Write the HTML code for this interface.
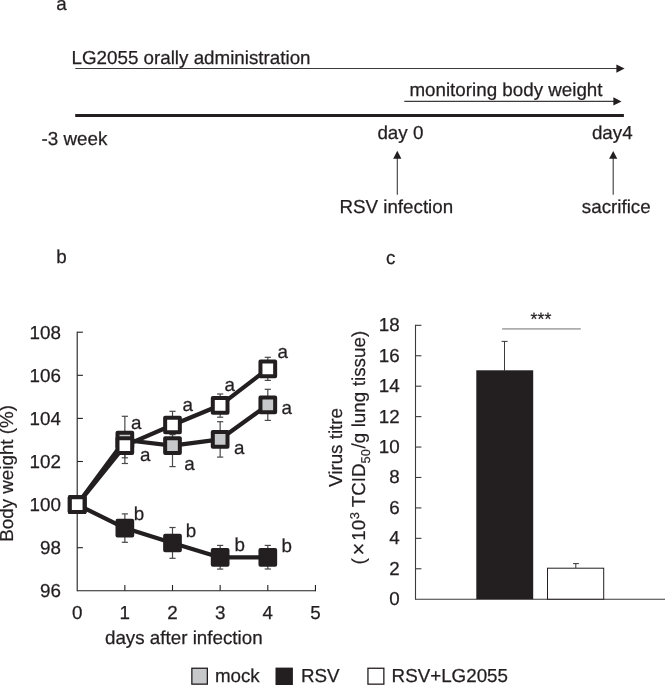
<!DOCTYPE html>
<html lang="en"><head><meta charset="utf-8"><title>Figure</title>
<style>
html,body{margin:0;padding:0;background:#fff;}
svg{display:block;font-family:"Liberation Sans",sans-serif;fill:#231f20;}
text{stroke:#231f20;stroke-width:0.25px;text-rendering:geometricPrecision;}
text.r{stroke-width:0.2px;}
</style></head><body>
<svg width="665" height="685" viewBox="0 0 665 685">
<rect width="665" height="685" fill="#fff"/>
<text x="56.30" y="10.00" text-anchor="start" font-size="18.8">a</text>
<text x="71.50" y="63.60" text-anchor="start" font-size="18.8">LG2055 orally administration</text>
<line x1="75.30" y1="68.55" x2="617.50" y2="68.55" stroke="#3c3a3b" stroke-width="1.1"/>
<polygon points="624.60,68.55 616.40,64.40 616.40,72.70" fill="#231f20"/>
<text x="409.40" y="95.50" text-anchor="start" font-size="18.8">monitoring body weight</text>
<line x1="404.30" y1="101.40" x2="614.00" y2="101.40" stroke="#3c3a3b" stroke-width="1.1"/>
<polygon points="621.50,101.45 613.40,97.30 613.40,105.60" fill="#231f20"/>
<line x1="75.20" y1="115.40" x2="623.90" y2="115.40" stroke="#231f20" stroke-width="3.0"/>
<text x="41.60" y="144.70" text-anchor="start" font-size="18.8">-3 week</text>
<text x="377.40" y="138.50" text-anchor="start" font-size="18.8">day 0</text>
<text x="591.90" y="138.50" text-anchor="start" font-size="18.8">day4</text>
<line x1="397.30" y1="158.00" x2="397.30" y2="194.80" stroke="#3c3a3b" stroke-width="1.1"/>
<polygon points="397.30,150.80 393.20,158.80 401.40,158.80" fill="#231f20"/>
<line x1="613.20" y1="158.00" x2="613.20" y2="194.80" stroke="#3c3a3b" stroke-width="1.1"/>
<polygon points="613.20,150.90 609.10,158.80 617.30,158.80" fill="#231f20"/>
<text x="339.40" y="212.80" text-anchor="start" font-size="18.8">RSV infection</text>
<text x="581.80" y="213.00" text-anchor="start" font-size="18.8">sacrifice</text>
<text x="56.20" y="262.60" text-anchor="start" font-size="18.8">b</text>
<line x1="77.20" y1="331.65" x2="77.20" y2="591.35" stroke="#231f20" stroke-width="1.1"/>
<line x1="77.20" y1="590.80" x2="315.45" y2="590.80" stroke="#231f20" stroke-width="1.1"/>
<text x="60.90" y="597.30" text-anchor="end" font-size="18.8">96</text>
<line x1="77.20" y1="547.70" x2="82.90" y2="547.70" stroke="#231f20" stroke-width="1.1"/>
<text x="60.90" y="554.20" text-anchor="end" font-size="18.8">98</text>
<line x1="77.20" y1="504.60" x2="82.90" y2="504.60" stroke="#231f20" stroke-width="1.1"/>
<text x="60.90" y="511.10" text-anchor="end" font-size="18.8">100</text>
<line x1="77.20" y1="461.50" x2="82.90" y2="461.50" stroke="#231f20" stroke-width="1.1"/>
<text x="60.90" y="468.00" text-anchor="end" font-size="18.8">102</text>
<line x1="77.20" y1="418.40" x2="82.90" y2="418.40" stroke="#231f20" stroke-width="1.1"/>
<text x="60.90" y="424.90" text-anchor="end" font-size="18.8">104</text>
<line x1="77.20" y1="375.30" x2="82.90" y2="375.30" stroke="#231f20" stroke-width="1.1"/>
<text x="60.90" y="381.80" text-anchor="end" font-size="18.8">106</text>
<line x1="77.20" y1="332.20" x2="82.90" y2="332.20" stroke="#231f20" stroke-width="1.1"/>
<text x="60.90" y="338.70" text-anchor="end" font-size="18.8">108</text>
<text x="77.20" y="618.80" text-anchor="middle" font-size="18.8">0</text>
<line x1="124.85" y1="590.80" x2="124.85" y2="585.00" stroke="#231f20" stroke-width="1.1"/>
<text x="124.85" y="618.80" text-anchor="middle" font-size="18.8">1</text>
<line x1="172.50" y1="590.80" x2="172.50" y2="585.00" stroke="#231f20" stroke-width="1.1"/>
<text x="172.50" y="618.80" text-anchor="middle" font-size="18.8">2</text>
<line x1="220.15" y1="590.80" x2="220.15" y2="585.00" stroke="#231f20" stroke-width="1.1"/>
<text x="220.15" y="618.80" text-anchor="middle" font-size="18.8">3</text>
<line x1="267.80" y1="590.80" x2="267.80" y2="585.00" stroke="#231f20" stroke-width="1.1"/>
<text x="267.80" y="618.80" text-anchor="middle" font-size="18.8">4</text>
<line x1="315.45" y1="591.35" x2="315.45" y2="585.00" stroke="#231f20" stroke-width="1.1"/>
<text x="315.45" y="618.80" text-anchor="middle" font-size="18.8">5</text>
<text x="183.80" y="643.70" text-anchor="middle" font-size="18.8">days after infection</text>
<text transform="translate(13.3,473.4) rotate(-90)" text-anchor="middle" font-size="18.8" class="r">Body weight (%)</text>
<line x1="124.85" y1="513.90" x2="124.85" y2="542.30" stroke="#4a4849" stroke-width="1.2"/>
<line x1="121.75" y1="513.90" x2="127.95" y2="513.90" stroke="#4a4849" stroke-width="1.2"/>
<line x1="121.75" y1="542.30" x2="127.95" y2="542.30" stroke="#4a4849" stroke-width="1.2"/>
<line x1="172.50" y1="527.50" x2="172.50" y2="558.30" stroke="#4a4849" stroke-width="1.2"/>
<line x1="169.40" y1="527.50" x2="175.60" y2="527.50" stroke="#4a4849" stroke-width="1.2"/>
<line x1="169.40" y1="558.30" x2="175.60" y2="558.30" stroke="#4a4849" stroke-width="1.2"/>
<line x1="220.15" y1="545.40" x2="220.15" y2="569.10" stroke="#4a4849" stroke-width="1.2"/>
<line x1="217.05" y1="545.40" x2="223.25" y2="545.40" stroke="#4a4849" stroke-width="1.2"/>
<line x1="217.05" y1="569.10" x2="223.25" y2="569.10" stroke="#4a4849" stroke-width="1.2"/>
<line x1="267.80" y1="545.40" x2="267.80" y2="569.00" stroke="#4a4849" stroke-width="1.2"/>
<line x1="264.70" y1="545.40" x2="270.90" y2="545.40" stroke="#4a4849" stroke-width="1.2"/>
<line x1="264.70" y1="569.00" x2="270.90" y2="569.00" stroke="#4a4849" stroke-width="1.2"/>
<line x1="124.85" y1="416.30" x2="124.85" y2="463.50" stroke="#4a4849" stroke-width="1.2"/>
<line x1="121.75" y1="416.30" x2="127.95" y2="416.30" stroke="#4a4849" stroke-width="1.2"/>
<line x1="121.75" y1="463.50" x2="127.95" y2="463.50" stroke="#4a4849" stroke-width="1.2"/>
<line x1="172.50" y1="434.60" x2="172.50" y2="466.60" stroke="#4a4849" stroke-width="1.2"/>
<line x1="169.40" y1="434.60" x2="175.60" y2="434.60" stroke="#4a4849" stroke-width="1.2"/>
<line x1="169.40" y1="466.60" x2="175.60" y2="466.60" stroke="#4a4849" stroke-width="1.2"/>
<line x1="220.15" y1="421.70" x2="220.15" y2="457.10" stroke="#4a4849" stroke-width="1.2"/>
<line x1="217.05" y1="421.70" x2="223.25" y2="421.70" stroke="#4a4849" stroke-width="1.2"/>
<line x1="217.05" y1="457.10" x2="223.25" y2="457.10" stroke="#4a4849" stroke-width="1.2"/>
<line x1="267.80" y1="389.30" x2="267.80" y2="420.40" stroke="#4a4849" stroke-width="1.2"/>
<line x1="264.70" y1="389.30" x2="270.90" y2="389.30" stroke="#4a4849" stroke-width="1.2"/>
<line x1="264.70" y1="420.40" x2="270.90" y2="420.40" stroke="#4a4849" stroke-width="1.2"/>
<line x1="124.85" y1="433.40" x2="124.85" y2="457.80" stroke="#4a4849" stroke-width="1.2"/>
<line x1="121.75" y1="433.40" x2="127.95" y2="433.40" stroke="#4a4849" stroke-width="1.2"/>
<line x1="121.75" y1="457.80" x2="127.95" y2="457.80" stroke="#4a4849" stroke-width="1.2"/>
<line x1="172.50" y1="411.30" x2="172.50" y2="438.70" stroke="#4a4849" stroke-width="1.2"/>
<line x1="169.40" y1="411.30" x2="175.60" y2="411.30" stroke="#4a4849" stroke-width="1.2"/>
<line x1="169.40" y1="438.70" x2="175.60" y2="438.70" stroke="#4a4849" stroke-width="1.2"/>
<line x1="220.15" y1="394.00" x2="220.15" y2="417.20" stroke="#4a4849" stroke-width="1.2"/>
<line x1="217.05" y1="394.00" x2="223.25" y2="394.00" stroke="#4a4849" stroke-width="1.2"/>
<line x1="217.05" y1="417.20" x2="223.25" y2="417.20" stroke="#4a4849" stroke-width="1.2"/>
<line x1="267.80" y1="357.30" x2="267.80" y2="380.40" stroke="#4a4849" stroke-width="1.2"/>
<line x1="264.70" y1="357.30" x2="270.90" y2="357.30" stroke="#4a4849" stroke-width="1.2"/>
<line x1="264.70" y1="380.40" x2="270.90" y2="380.40" stroke="#4a4849" stroke-width="1.2"/>
<polyline fill="none" stroke="#231f20" stroke-width="4.2" stroke-linejoin="round" points="77.20,504.60 124.85,528.10 172.50,543.00 220.15,557.40 267.80,557.40"/>
<rect x="69.85" y="497.25" width="14.7" height="14.7" fill="#231f20" stroke="#231f20" stroke-width="4.0" stroke-linejoin="round"/>
<rect x="117.50" y="520.75" width="14.7" height="14.7" fill="#231f20" stroke="#231f20" stroke-width="4.0" stroke-linejoin="round"/>
<rect x="165.15" y="535.65" width="14.7" height="14.7" fill="#231f20" stroke="#231f20" stroke-width="4.0" stroke-linejoin="round"/>
<rect x="212.80" y="550.05" width="14.7" height="14.7" fill="#231f20" stroke="#231f20" stroke-width="4.0" stroke-linejoin="round"/>
<rect x="260.45" y="550.05" width="14.7" height="14.7" fill="#231f20" stroke="#231f20" stroke-width="4.0" stroke-linejoin="round"/>
<polyline fill="none" stroke="#231f20" stroke-width="4.2" stroke-linejoin="round" points="77.20,504.60 124.85,440.00 172.50,445.60 220.15,439.30 267.80,404.90"/>
<rect x="69.85" y="497.25" width="14.7" height="14.7" fill="#c7c8ca" stroke="#231f20" stroke-width="4.0" stroke-linejoin="round"/>
<rect x="117.50" y="432.65" width="14.7" height="14.7" fill="#c7c8ca" stroke="#231f20" stroke-width="4.0" stroke-linejoin="round"/>
<rect x="165.15" y="438.25" width="14.7" height="14.7" fill="#c7c8ca" stroke="#231f20" stroke-width="4.0" stroke-linejoin="round"/>
<rect x="212.80" y="431.95" width="14.7" height="14.7" fill="#c7c8ca" stroke="#231f20" stroke-width="4.0" stroke-linejoin="round"/>
<rect x="260.45" y="397.55" width="14.7" height="14.7" fill="#c7c8ca" stroke="#231f20" stroke-width="4.0" stroke-linejoin="round"/>
<polyline fill="none" stroke="#231f20" stroke-width="4.2" stroke-linejoin="round" points="77.20,504.60 124.85,445.60 172.50,425.00 220.15,405.30 267.80,368.80"/>
<rect x="69.85" y="497.25" width="14.7" height="14.7" fill="#fff" stroke="#231f20" stroke-width="4.0" stroke-linejoin="round"/>
<rect x="117.50" y="438.25" width="14.7" height="14.7" fill="#fff" stroke="#231f20" stroke-width="4.0" stroke-linejoin="round"/>
<rect x="165.15" y="417.65" width="14.7" height="14.7" fill="#fff" stroke="#231f20" stroke-width="4.0" stroke-linejoin="round"/>
<rect x="212.80" y="397.95" width="14.7" height="14.7" fill="#fff" stroke="#231f20" stroke-width="4.0" stroke-linejoin="round"/>
<rect x="260.45" y="361.45" width="14.7" height="14.7" fill="#fff" stroke="#231f20" stroke-width="4.0" stroke-linejoin="round"/>
<text x="131.00" y="428.50" text-anchor="start" font-size="18.8">a</text>
<text x="140.10" y="460.80" text-anchor="start" font-size="18.8">a</text>
<text x="182.50" y="410.80" text-anchor="start" font-size="18.8">a</text>
<text x="224.50" y="390.50" text-anchor="start" font-size="18.8">a</text>
<text x="234.00" y="453.70" text-anchor="start" font-size="18.8">a</text>
<text x="277.50" y="358.30" text-anchor="start" font-size="18.8">a</text>
<text x="281.50" y="413.90" text-anchor="start" font-size="18.8">a</text>
<text x="184.30" y="470.10" text-anchor="start" font-size="18.8">a</text>
<text x="133.70" y="520.10" text-anchor="start" font-size="18.8">b</text>
<text x="185.80" y="536.90" text-anchor="start" font-size="18.8">b</text>
<text x="234.60" y="550.60" text-anchor="start" font-size="18.8">b</text>
<text x="281.60" y="551.70" text-anchor="start" font-size="18.8">b</text>
<text x="386.10" y="263.80" text-anchor="start" font-size="18.8">c</text>
<line x1="415.50" y1="324.78" x2="415.50" y2="599.75" stroke="#3c3a3b" stroke-width="1.1"/>
<line x1="415.50" y1="599.20" x2="665.00" y2="599.20" stroke="#3c3a3b" stroke-width="1.1"/>
<text x="399.70" y="605.10" text-anchor="end" font-size="18.8">0</text>
<line x1="415.50" y1="568.77" x2="421.40" y2="568.77" stroke="#3c3a3b" stroke-width="1.1"/>
<text x="399.70" y="574.67" text-anchor="end" font-size="18.8">2</text>
<line x1="415.50" y1="538.34" x2="421.40" y2="538.34" stroke="#3c3a3b" stroke-width="1.1"/>
<text x="399.70" y="544.24" text-anchor="end" font-size="18.8">4</text>
<line x1="415.50" y1="507.91" x2="421.40" y2="507.91" stroke="#3c3a3b" stroke-width="1.1"/>
<text x="399.70" y="513.81" text-anchor="end" font-size="18.8">6</text>
<line x1="415.50" y1="477.48" x2="421.40" y2="477.48" stroke="#3c3a3b" stroke-width="1.1"/>
<text x="399.70" y="483.38" text-anchor="end" font-size="18.8">8</text>
<line x1="415.50" y1="447.05" x2="421.40" y2="447.05" stroke="#3c3a3b" stroke-width="1.1"/>
<text x="399.70" y="452.95" text-anchor="end" font-size="18.8">10</text>
<line x1="415.50" y1="416.62" x2="421.40" y2="416.62" stroke="#3c3a3b" stroke-width="1.1"/>
<text x="399.70" y="422.52" text-anchor="end" font-size="18.8">12</text>
<line x1="415.50" y1="386.19" x2="421.40" y2="386.19" stroke="#3c3a3b" stroke-width="1.1"/>
<text x="399.70" y="392.09" text-anchor="end" font-size="18.8">14</text>
<line x1="415.50" y1="355.76" x2="421.40" y2="355.76" stroke="#3c3a3b" stroke-width="1.1"/>
<text x="399.70" y="361.66" text-anchor="end" font-size="18.8">16</text>
<line x1="415.50" y1="325.33" x2="421.40" y2="325.33" stroke="#3c3a3b" stroke-width="1.1"/>
<text x="399.70" y="331.23" text-anchor="end" font-size="18.8">18</text>
<rect x="476.3" y="370.3" width="56.9" height="228.90" fill="#231f20"/>
<line x1="504.50" y1="341.40" x2="504.50" y2="371.00" stroke="#3c3a3b" stroke-width="1.05"/>
<line x1="501.60" y1="341.40" x2="507.60" y2="341.40" stroke="#3c3a3b" stroke-width="1.05"/>
<rect x="547.5" y="568.2" width="56.2" height="31.00" fill="#fff" stroke="#231f20" stroke-width="1"/>
<line x1="575.80" y1="563.60" x2="575.80" y2="568.20" stroke="#3c3a3b" stroke-width="1.05"/>
<line x1="573.00" y1="563.60" x2="578.90" y2="563.60" stroke="#3c3a3b" stroke-width="1.05"/>
<line x1="502.10" y1="328.90" x2="580.80" y2="328.90" stroke="#adadad" stroke-width="1.7"/>
<text x="541.00" y="324.50" text-anchor="middle" font-size="17.8">***</text>
<text transform="translate(342.2,447.5) rotate(-90)" text-anchor="middle" font-size="18.8" class="r">Virus titre</text>
<text transform="translate(364.7,564.4) rotate(-90)" text-anchor="start" font-size="18.8" class="r" xml:space="preserve">( <tspan font-size="22" dx="-2.6" dy="0.8">×</tspan><tspan dx="-3.2" dy="-0.8"> 10</tspan><tspan font-size="12.8" dx="0.5" dy="-6.2">3</tspan><tspan dy="6.2"> TCID</tspan><tspan font-size="12.8" dy="4.8">50</tspan><tspan dx="0.6" dy="-4.8">/g</tspan><tspan dx="0.4"> lung</tspan><tspan dx="0.4"> tissue)</tspan></text>
<rect x="191.85" y="668.25" width="15.5" height="15.9" fill="#c7c8ca" stroke="#231f20" stroke-width="1.3"/>
<text x="214.90" y="682.10" text-anchor="start" font-size="18.8">mock</text>
<rect x="275.5" y="667.6" width="17.4" height="17.4" fill="#231f20"/>
<text x="301.00" y="682.10" text-anchor="start" font-size="18.8">RSV</text>
<rect x="367.95" y="668.25" width="15.9" height="15.9" fill="#fff" stroke="#231f20" stroke-width="1.3"/>
<text x="391.60" y="682.00" text-anchor="start" font-size="18.8">RSV+LG2055</text>
</svg>
</body></html>
